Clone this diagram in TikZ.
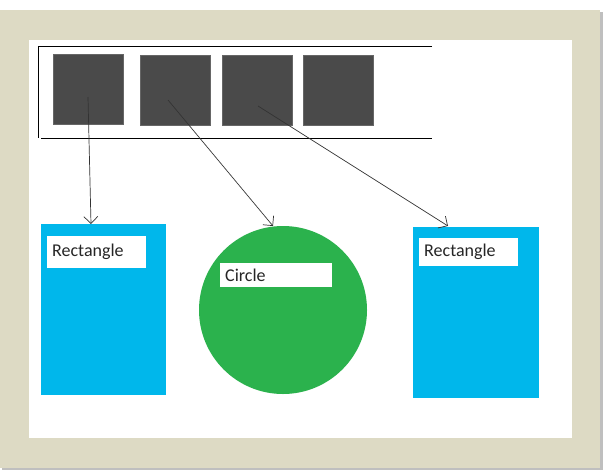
\documentclass[tikz,border=0pt]{standalone}
\usepackage{fontspec}
\setmainfont{Carlito}
\usetikzlibrary{arrows.meta}
\definecolor{skyb}{RGB}{0,183,235}
\definecolor{grn}{RGB}{43,178,77}
\definecolor{frm}{RGB}{221,218,196}
\begin{document}
\begin{tikzpicture}[x=1pt,y=-1pt,
  sq/.style={fill=black!71,draw=black!60,line width=0.4pt,minimum size=70pt,inner sep=0pt},
  lbl/.style={fill=white,inner sep=0pt,anchor=north west,font=\fontsize{18}{20}\selectfont,text=black!85,align=left},
  arr/.style={draw=black!80,line width=0.7pt,-{Straight Barb[length=7pt,width=14pt]}}]
\useasboundingbox (0,0) rectangle (604,471);
\fill[white] (0,0) rectangle (604,471);
\fill[black!25] (2,12) rectangle (603,470);
\fill[frm] (0,10) rectangle (600,468);
\fill[white] (29,40) rectangle (572,438);
\draw[line width=0.8pt] (432,46) -- (38,46) -- (38,138);
\draw[line width=0.8pt] (41,138) -- (432,138);
\node[sq] (s1) at (88,89) {};
\node[sq] (s2) at (175,90) {};
\node[sq] (s3) at (257,90) {};
\node[sq] (s4) at (338,90) {};
\fill[skyb] (41,224) rectangle (166,395);
\fill[grn] (283,310) circle (84);
\fill[skyb] (413,227) rectangle (539,398);
\coordinate (r1) at (91,224);
\coordinate (c1) at (273,226);
\coordinate (r2) at (448,226);
\node[lbl,minimum width=99pt,minimum height=32pt,text width=95pt] (t1) at (47,236) {\hspace{3pt}Rectangle};
\node[lbl,minimum width=112pt,minimum height=24pt,text width=108pt] (t2) at (220,263) {\hspace{3pt}Circle};
\node[lbl,minimum width=99pt,minimum height=28pt,text width=95pt] (t3) at (419,238) {\hspace{3pt}Rectangle};
\coordinate (a1) at (88,97);
\coordinate (a2) at (168,100);
\coordinate (a3) at (258,106);
\draw[arr] (a1) -- (r1);
\draw[arr] (a2) -- (c1);
\draw[arr] (a3) -- (r2);
\end{tikzpicture}
\end{document}
